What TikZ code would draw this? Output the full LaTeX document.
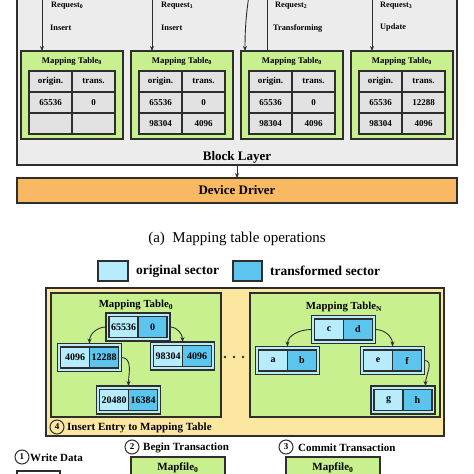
\documentclass[tikz,border=0pt]{standalone}
\usepackage{fontspec}
\setmainfont{Liberation Serif}
\usetikzlibrary{arrows.meta,calc}
\definecolor{grayfill}{HTML}{ECECEC}
\definecolor{cellfill}{HTML}{E2E2E2}
\definecolor{greenfill}{HTML}{C9F08F}
\definecolor{orangefill}{HTML}{F9B862}
\definecolor{yellowfill}{HTML}{FCE7A0}
\definecolor{lblue}{HTML}{B6ECFB}
\definecolor{dblue}{HTML}{5CC5EE}
\definecolor{edge}{HTML}{2E2E2E}
\newcommand\fs[1]{\fontsize{#1}{#1}\selectfont\bfseries}
\tikzset{
  box/.style={draw=edge, line width=1.1pt, inner sep=0pt, outer sep=0pt},
  cell/.style={box, fill=cellfill, minimum width=43pt, minimum height=21pt, font=\fs{9}},
  gbox/.style={box, fill=greenfill},
  arr/.style={line width=0.9pt, draw=edge, -{Stealth[length=5pt,width=4pt]}},
  lbl/.style={anchor=west, inner sep=0pt, font=\fs{8.3}},
  tcell/.style={box, minimum width=29pt, minimum height=21pt, font=\fs{10}},
  circnum/.style={draw=edge, circle, line width=1pt, inner sep=0pt, minimum size=14pt, font=\fs{9}},
  step11/.style={anchor=west, inner sep=0pt, font=\fs{11}},
}
\newcommand\MapTab[6]{%
  \node[gbox, anchor=north west, minimum width=102pt, minimum height=88pt] (#1) at (#2,51) {};
  \node[font=\fs{8.7}, inner sep=0pt] (#1t) at ($(#1.north)+(0,10)$) {Mapping Table\textsubscript{0}};
  \node[cell] (#1a) at ($(#1.north west)+(29.5,30.5)$) {origin.};
  \node[cell] (#1b) at ($(#1.north west)+(72.5,30.5)$) {trans.};
  \node[cell] (#1c) at ($(#1.north west)+(29.5,51.5)$) {#3};
  \node[cell] (#1d) at ($(#1.north west)+(72.5,51.5)$) {#4};
  \node[cell] (#1e) at ($(#1.north west)+(29.5,72.5)$) {#5};
  \node[cell] (#1f) at ($(#1.north west)+(72.5,72.5)$) {#6};
}
\newcommand\TNode[4]{%
  \node[box, fill=lblue, minimum width=64pt, minimum height=28pt] (#1) at (#2) {};
  \node[tcell, fill=lblue, anchor=east] (#1l) at (#1.center) {#3};
  \node[tcell, fill=dblue, anchor=west] (#1r) at (#1.center) {#4};
}
\begin{document}
\begin{tikzpicture}[x=1pt,y=-1pt]
\useasboundingbox (0,0) rectangle (474,474);
\clip (0,0) rectangle (474,474);

% ---------- (a) ----------
\node[box, fill=grayfill, anchor=south west, minimum width=440pt, minimum height=175pt] (blk) at (17,165) {};
\node[inner sep=0pt, font=\fs{13}] (blklbl) at (237,157) {Block Layer};

\MapTab{mt0}{21}{65536}{0}{}{}
\MapTab{mt1}{131}{65536}{0}{98304}{4096}
\MapTab{mt2}{241}{65536}{0}{98304}{4096}
\MapTab{mt3}{351}{65536}{12288}{98304}{4096}

\coordinate (r0) at (42,-5);
\coordinate (r1) at (152,-5);
\coordinate (r2a) at (249,-5);
\coordinate (r2b) at (267,-5);
\coordinate (r3) at (372,-5);
\draw[arr] (r0) -- (r0 |- mt0.north);
\draw[arr] (r1) -- (r1 |- mt1.north);
\draw[arr] (r2a) to[bend right=4] ($(mt2.north west)+(4,0)$);
\draw[arr] (r2b |- mt2.north) -- (r2b);
\draw[arr] (r3) -- (r3 |- mt3.north);

\node[lbl] (q0) at (51,6) {Request\textsubscript{0}};
\node[lbl] (i0) at (50,28) {Insert};
\node[lbl] (q1) at (161,6) {Request\textsubscript{1}};
\node[lbl] (i1) at (161,28) {Insert};
\node[lbl] (q2) at (275,6) {Request\textsubscript{2}};
\node[lbl] (i2) at (273,28) {Transforming};
\node[lbl] (q3) at (380,6) {Request\textsubscript{3}};
\node[lbl] (i3) at (380,28) {Update};

\node[box, fill=orangefill, minimum width=440pt, minimum height=25pt, font=\fs{13}] (drv) at (237,190.5) {Device Driver};
\draw[arr] (blk.south) -- (drv.north);

\node[inner sep=0pt, font=\fontsize{15}{15}\selectfont] (cap) at (237,239) {(a)\ \ Mapping table operations};

% ---------- legend ----------
\node[box, fill=lblue, minimum width=30pt, minimum height=20pt] (lg1) at (113,271) {};
\node[anchor=west, inner sep=0pt, font=\fs{13.5}] (lg1t) at (136,271) {original sector};
\node[box, fill=dblue, minimum width=29pt, minimum height=20pt] (lg2) at (247.5,271) {};
\node[anchor=west, inner sep=0pt, font=\fs{13.5}] (lg2t) at (270,271) {transformed sector};

% ---------- (b) ----------
\node[box, fill=yellowfill, anchor=north west, minimum width=398pt, minimum height=148pt] (yel) at (46,288) {};
\node[gbox, anchor=north west, minimum width=170pt, minimum height=124pt] (gl) at (51,293) {};
\node[gbox, anchor=north west, minimum width=190pt, minimum height=124pt] (gr) at (250,293) {};
\node[inner sep=0pt, font=\fs{10.8}] (glt) at (136,305) {Mapping Table\textsubscript{0}};
\node[inner sep=0pt, font=\fs{10.8}] (grt) at (344,307) {Mapping Table\textsubscript{N}};

\fill[edge] (225,357) circle (1.4) (234,357) circle (1.4) (243,357) circle (1.4);

\TNode{n1}{138,327}{65536}{0}
\TNode{n2}{89.5,357.5}{4096}{12288}
\TNode{n3}{182.5,356}{98304}{4096}
\TNode{n4}{128.5,400}{20480}{16384}
\draw[arr] (n1.west) to[out=180,in=90] (n2.north);
\draw[arr] (n1.east) to[out=0,in=90] (n3.north);
\draw[arr] (n2.east) to[out=0,in=90] (n4.north);

\TNode{m1}{343.5,329.5}{c}{d}
\TNode{m2}{287.5,360.5}{a}{b}
\TNode{m3}{392.5,360.5}{e}{f}
\TNode{m4}{403,400}{g}{h}
\draw[arr] (m1.west) to[out=180,in=90] (m2.north);
\draw[arr] (m1.east) to[out=0,in=90] (m3.north);
\draw[arr] (m3.east) to[out=0,in=90] ($(m4.north -| m3.east)+(1,0)$);

\node[circnum] (c4) at (57,427) {4};
\node[step11] (c4t) at (67,427.5) {Insert Entry to Mapping Table};

\node[circnum] (c1) at (22,457) {1};
\node[step11] (c1t) at (30,457.5) {Write Data};
\node[box, fill=white, anchor=north west, minimum width=43pt, minimum height=30pt] (wd) at (17,471) {};

\node[circnum] (c2) at (132,447) {2};
\node[step11] (c2t) at (143,447.5) {Begin Transaction};
\node[gbox, anchor=north west, minimum width=94pt, minimum height=40pt] (mf1) at (131,457) {};
\node[inner sep=0pt, font=\fs{11}] (mf1t) at (178,468) {Mapfile\textsubscript{0}};

\node[circnum] (c3) at (286,447) {3};
\node[step11] (c3t) at (298,447.5) {Commit Transaction};
\node[gbox, anchor=north west, minimum width=94pt, minimum height=40pt] (mf2) at (286,457) {};
\node[inner sep=0pt, font=\fs{11}] (mf2t) at (333,468) {Mapfile\textsubscript{0}};
\end{tikzpicture}
\end{document}
